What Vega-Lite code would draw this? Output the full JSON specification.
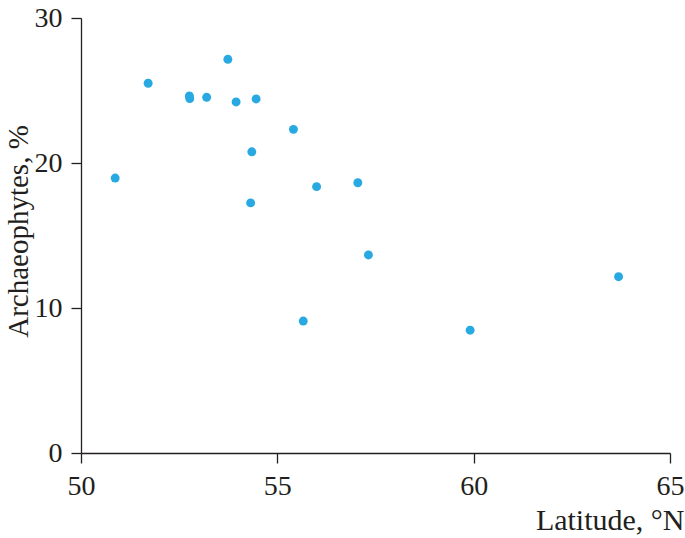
{
  "$schema": "https://vega.github.io/schema/vega-lite/v6.json",
  "width": 589,
  "height": 435,
  "autosize": "none",
  "padding": {"left": 81, "top": 18, "right": 15, "bottom": 85},
  "background": "white",
  "config": {
    "view": {"stroke": null},
    "axis": {
      "grid": false,
      "domainColor": "#231f20",
      "domainWidth": 1.3,
      "tickColor": "#231f20",
      "tickWidth": 1.3,
      "tickSize": 10,
      "labelFont": "'Liberation Serif', 'Times New Roman', serif",
      "labelFontSize": 28,
      "labelColor": "#231f20",
      "titleFont": "'Liberation Serif', 'Times New Roman', serif",
      "titleFontSize": 30,
      "titleFontWeight": "normal",
      "titleColor": "#231f20"
    }
  },
  "data": {
    "values": [
      {"lat": 53.74, "arch": 27.15},
      {"lat": 51.71, "arch": 25.5},
      {"lat": 52.76, "arch": 24.62},
      {"lat": 52.77, "arch": 24.44},
      {"lat": 53.2, "arch": 24.53},
      {"lat": 53.95, "arch": 24.21},
      {"lat": 54.46, "arch": 24.42},
      {"lat": 55.41, "arch": 22.32},
      {"lat": 54.35, "arch": 20.77},
      {"lat": 50.87, "arch": 18.96},
      {"lat": 56.0, "arch": 18.37},
      {"lat": 57.05, "arch": 18.64},
      {"lat": 54.32, "arch": 17.25},
      {"lat": 57.32, "arch": 13.66},
      {"lat": 55.66, "arch": 9.1},
      {"lat": 59.91, "arch": 8.47},
      {"lat": 63.69, "arch": 12.16}
    ]
  },
  "mark": {"type": "circle", "size": 80, "color": "#29a9e1", "opacity": 1},
  "encoding": {
    "x": {
      "field": "lat",
      "type": "quantitative",
      "scale": {"domain": [50, 65], "nice": false, "zero": false},
      "axis": {
        "values": [50, 55, 60, 65],
        "title": "Latitude, °N",
        "labelPadding": 9,
        "labelFlush": false,
        "titleAnchor": "end",
        "titleAlign": "right",
        "titleX": 603,
        "titleY": 76,
        "titleBaseline": "alphabetic"
      }
    },
    "y": {
      "field": "arch",
      "type": "quantitative",
      "scale": {"domain": [0, 30], "nice": false},
      "axis": {
        "values": [0, 10, 20, 30],
        "title": "Archaeophytes, %",
        "titleFontSize": 29,
        "labelPadding": 9,
        "labelFlush": false,
        "titleAngle": -90,
        "titleAlign": "center",
        "titleBaseline": "alphabetic",
        "titleX": -54,
        "titleY": 213
      }
    }
  }
}
